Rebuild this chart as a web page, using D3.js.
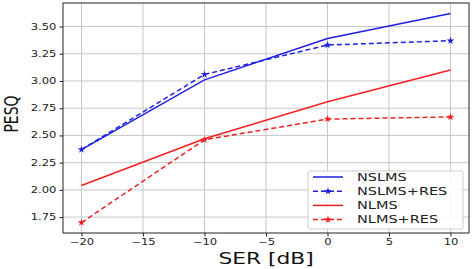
<!DOCTYPE html>
<html>
  <head>
    <script src="https://d3js.org/d3.v7.min.js" charset="utf-8"></script>
    <style>
      body { margin: 0; background: #fff; }
      text { font-family: "DejaVu Sans", sans-serif; }
    </style>
  </head>
  <body>
    <script>
      var ser = [-20, -10, 0, 10];
      var nslms = [2.37, 3.01, 3.39, 3.62];
      var nslmsRes = [2.37, 3.06, 3.33, 3.37];
      var nlms = [2.04, 2.47, 2.81, 3.10];
      var nlmsRes = [1.70, 2.46, 2.65, 2.67];
      var xTicks = [-20, -15, -10, -5, 0, 5, 10];
      var yTicks = [1.75, 2.00, 2.25, 2.50, 2.75, 3.00, 3.25, 3.50];

      var series = [
        { name: "NSLMS", values: nslms, color: "#1f1fe0", dash: null, marker: false },
        { name: "NSLMS+RES", values: nslmsRes, color: "#1f1fe0", dash: "5,3", marker: true },
        { name: "NLMS", values: nlms, color: "#f02020", dash: null, marker: false },
        { name: "NLMS+RES", values: nlmsRes, color: "#f02020", dash: "5,3", marker: true }
      ];

      var width = 474, height = 269;
      var plotL = 63, plotR = 469, plotT = 3, plotB = 233;
      var sx = 1.45; // the picture is stretched sideways

      var svg = d3.select("body").append("svg")
        .attr("width", width)
        .attr("height", height);

      var x = d3.scaleLinear().domain([-21.5, 11.5]).range([plotL, plotR]);
      var y = d3.scaleLinear().domain([1.604, 3.716]).range([plotB, plotT]);

      // grid
      svg.append("g").selectAll("line").data(xTicks).enter().append("line")
        .attr("x1", d => x(d)).attr("x2", d => x(d))
        .attr("y1", plotT).attr("y2", plotB)
        .attr("stroke", "#c8c8c8").attr("stroke-width", 1);
      svg.append("g").selectAll("line").data(yTicks).enter().append("line")
        .attr("x1", plotL).attr("x2", plotR)
        .attr("y1", d => y(d)).attr("y2", d => y(d))
        .attr("stroke", "#c8c8c8").attr("stroke-width", 1);

      // axes
      var xAxis = svg.append("g")
        .attr("transform", "translate(0," + plotB + ")")
        .call(d3.axisBottom(x).tickValues(xTicks).tickSize(3.5).tickPadding(3)
          .tickFormat(d => d < 0 ? "\u2212" + Math.abs(d) : d));
      var yAxis = svg.append("g")
        .attr("transform", "translate(" + plotL + ",0)")
        .call(d3.axisLeft(y).tickValues(yTicks).tickSize(3.5).tickPadding(3)
          .tickFormat(d3.format(".2f")));
      [xAxis, yAxis].forEach(function(a) {
        a.select(".domain").remove();
        a.selectAll("line").attr("stroke", "#222");
        a.selectAll("text").attr("fill", "#222")
          .style("font-size", "8px")
          .style("font-family", "DejaVu Sans, sans-serif")
          .attr("x", function() { return (+d3.select(this).attr("x") || 0) / sx; })
          .attr("transform", "scale(" + sx + ",1)");
      });

      svg.append("rect")
        .attr("x", plotL).attr("y", plotT)
        .attr("width", plotR - plotL).attr("height", plotB - plotT)
        .attr("fill", "none").attr("stroke", "#222").attr("stroke-width", 1);

      var line = d3.line().x((d, i) => x(ser[i])).y(d => y(d));
      var star = d3.symbol().type(d3.symbolStar).size(18);

      series.forEach(function(s) {
        svg.append("path")
          .attr("d", line(s.values))
          .attr("fill", "none")
          .attr("stroke", s.color)
          .attr("stroke-width", 1.5)
          .attr("stroke-dasharray", s.dash);
        if (s.marker) {
          svg.append("g").selectAll("path").data(s.values).enter().append("path")
            .attr("d", star)
            .attr("transform", (d, i) => "translate(" + x(ser[i]) + "," + y(d) + ")")
            .attr("fill", s.color);
        }
      });

      // legend
      var lg = svg.append("g").attr("transform", "translate(308,171)");
      lg.append("rect")
        .attr("width", 155).attr("height", 58).attr("rx", 2)
        .attr("fill", "#fff").attr("fill-opacity", 0.85)
        .attr("stroke", "#ccc");
      series.forEach(function(s, i) {
        var yy = 6 + i * 14.2;
        lg.append("line")
          .attr("x1", 5).attr("x2", 35).attr("y1", yy).attr("y2", yy)
          .attr("stroke", s.color).attr("stroke-width", 1.5)
          .attr("stroke-dasharray", s.dash);
        if (s.marker) {
          lg.append("path").attr("d", star)
            .attr("transform", "translate(20," + yy + ")")
            .attr("fill", s.color);
        }
        lg.append("text")
          .attr("transform", "translate(49," + (yy + 3.6) + ") scale(" + sx + ",1)")
          .style("font-size", "10px").attr("fill", "#222")
          .text(s.name);
      });

      svg.append("text")
        .attr("transform", "translate(" + ((plotL + plotR) / 2) + ",264) scale(" + sx + ",1)")
        .attr("text-anchor", "middle")
        .style("font-size", "15px").attr("fill", "#111")
        .text("SER [dB]");
      svg.append("text")
        .attr("transform", "translate(18," + ((plotT + plotB) / 2 - 4) + ") scale(" + sx + ",1) rotate(-90)")
        .attr("text-anchor", "middle")
        .style("font-size", "14px").attr("fill", "#111")
        .text("PESQ");
    </script>
  </body>
</html>
